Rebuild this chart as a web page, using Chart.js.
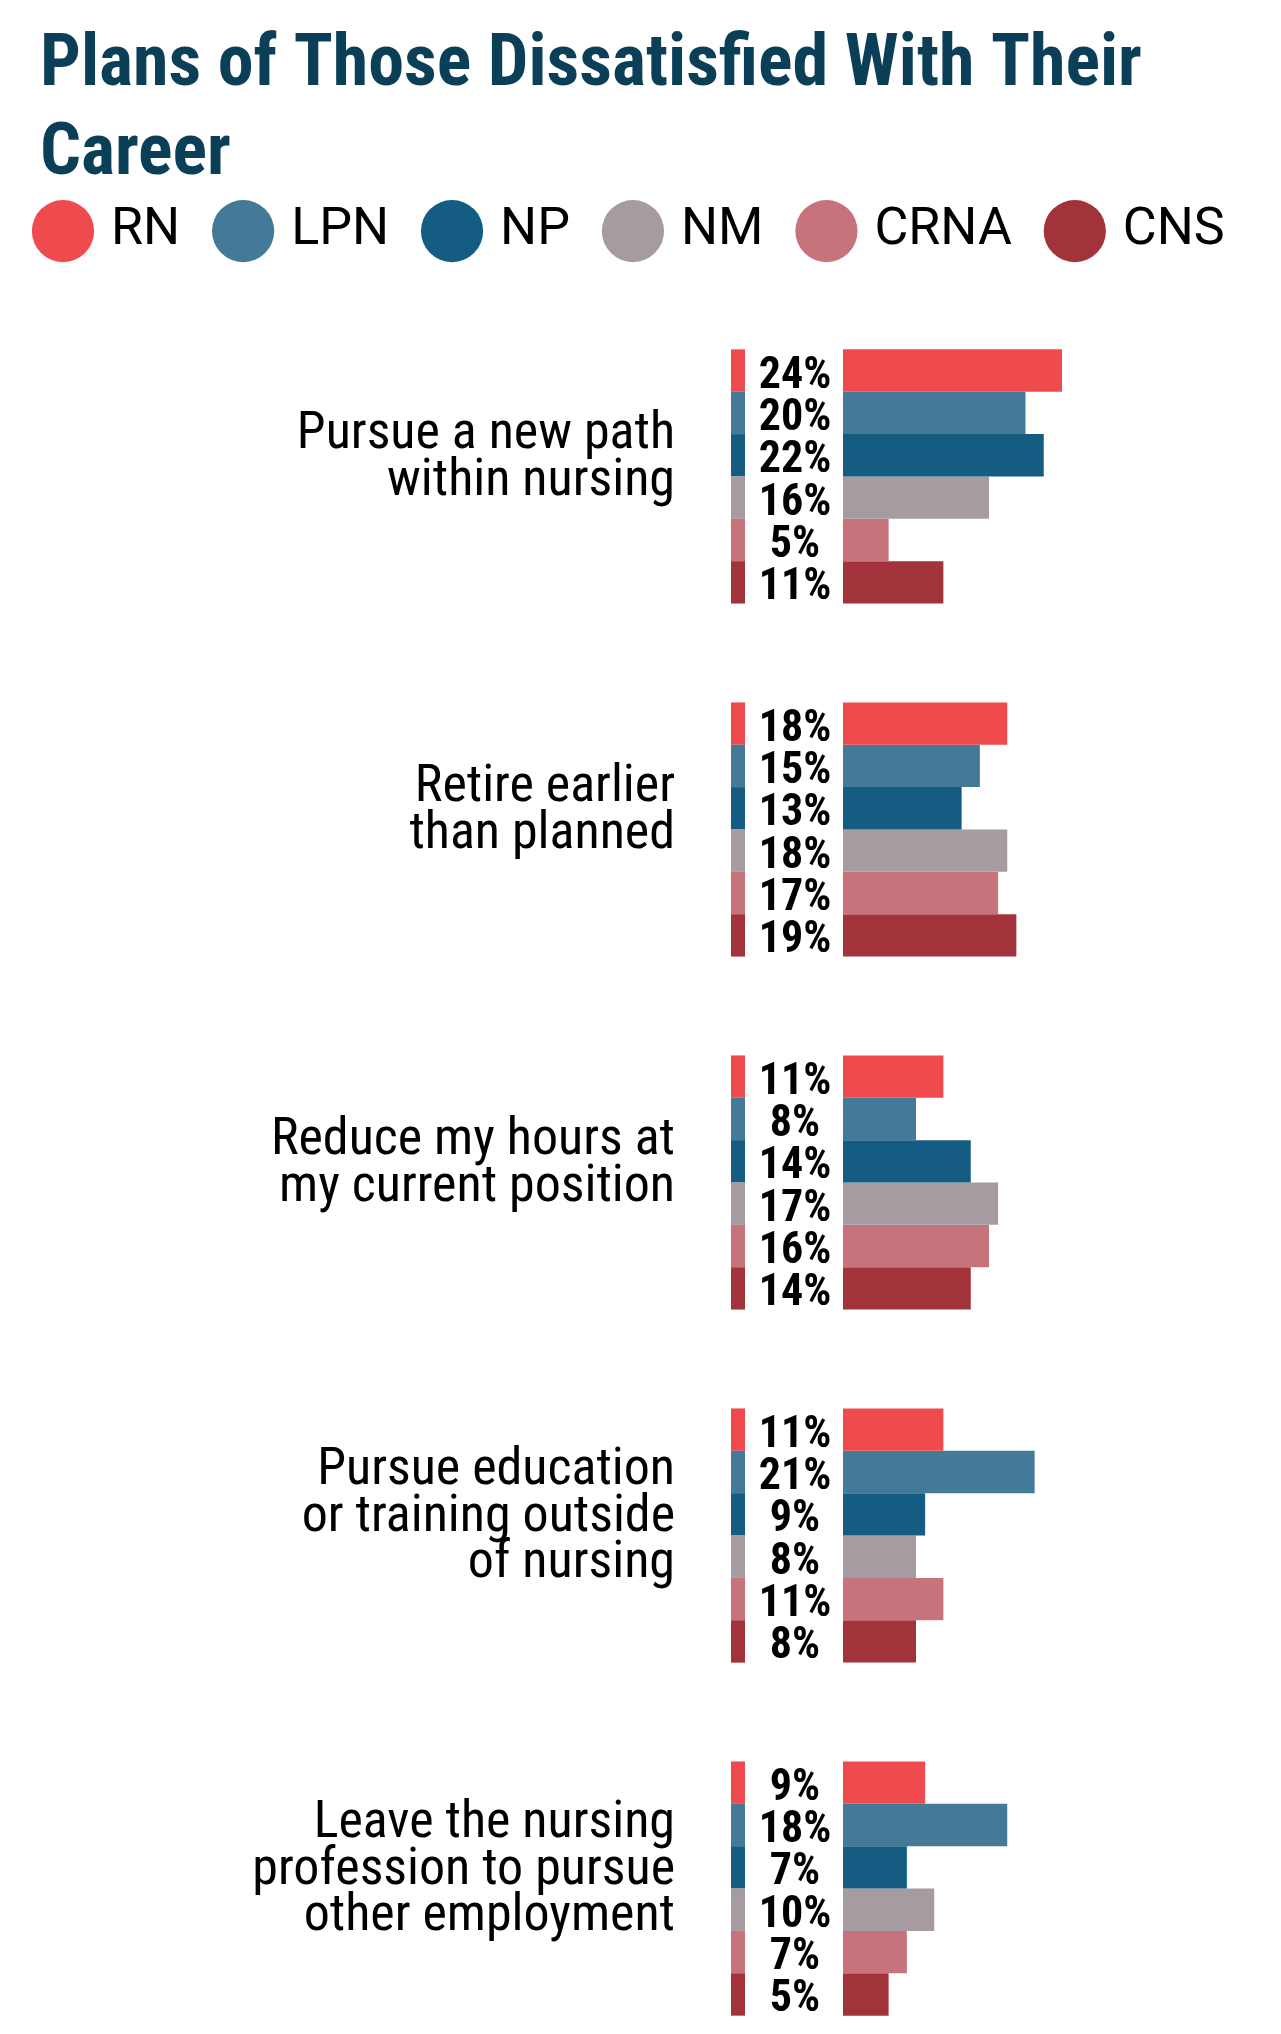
<!DOCTYPE html>
<html>
<head>
<meta charset="utf-8">
<title>Plans of Those Dissatisfied With Their Career</title>
<script src="https://cdn.jsdelivr.net/npm/chart.js@4.4.1/dist/chart.umd.min.js"></script>
<style>
  html, body { margin: 0; padding: 0; background: #fff; }
  #wrap { width: 1281px; height: 2034px; position: relative; }
</style>
</head>
<body>
<div id="wrap"><canvas id="plansChart"></canvas></div>
<script>
// Chart data
const categories = [
    ['Pursue a new path', 'within nursing'],
    ['Retire earlier', 'than planned'],
    ['Reduce my hours at', 'my current position'],
    ['Pursue education', 'or training outside', 'of nursing'],
    ['Leave the nursing', 'profession to pursue', 'other employment']
];
const roles = ['RN', 'LPN', 'NP', 'NM', 'CRNA', 'CNS'];
const rnValues = [24, 18, 11, 11, 9];
const lpnValues = [20, 15, 8, 21, 18];
const npValues = [22, 13, 14, 9, 7];
const nmValues = [16, 18, 17, 8, 10];
const crnaValues = [5, 17, 16, 11, 7];
const cnsValues = [11, 19, 14, 8, 5];

const roleColors = ['#ef4a4d', '#427a97', '#145c82', '#a69ba1', '#c7737b', '#a3333b'];
const seriesValues = [rnValues, lpnValues, npValues, nmValues, crnaValues, cnsValues];

const condensed = "'Roboto Condensed', 'Liberation Sans Narrow', 'DejaVu Sans Condensed', sans-serif";

// colour key strip + percent label to the left of each bar
const valueLabels = {
    id: 'valueLabels',
    afterLayout(chart) {
        // title is indented, the legend row is not
        chart.titleBlock.left = 40;
    },
    afterDatasetsDraw(chart) {
        const ctx = chart.ctx;
        const left = chart.chartArea.left;
        ctx.save();
        ctx.font = 'bold 44px ' + condensed;
        ctx.textAlign = 'center';
        ctx.textBaseline = 'middle';
        chart.data.datasets.forEach((ds, i) => {
            const meta = chart.getDatasetMeta(i);
            meta.data.forEach((bar, j) => {
                const p = bar.getProps(['y', 'height'], true);
                ctx.fillStyle = ds.backgroundColor;
                ctx.fillRect(left - 112, p.y - p.height / 2, 14, p.height);
                ctx.fillStyle = '#000';
                ctx.fillText(ds.data[j].x + '%', left - 48, p.y + 6);
            });
        });
        ctx.restore();
    }
};

const ctx = document.getElementById('plansChart').getContext('2d');

new Chart(ctx, {
    type: 'bar',
    data: {
        datasets: roles.map((role, i) => ({
            label: role,
            data: seriesValues[i].map((v, j) => ({ x: v, y: j })),
            backgroundColor: roleColors[i],
            borderWidth: 0,
            categoryPercentage: 0.72,
            barPercentage: 1
        }))
    },
    options: {
        indexAxis: 'y',
        responsive: true,
        maintainAspectRatio: false,
        animation: false,
        layout: {
            padding: 0
        },
        plugins: {
            title: {
                display: true,
                align: 'start',
                text: ['Plans of Those Dissatisfied With Their', 'Career'],
                color: '#0b3f58',
                font: { family: condensed, size: 72, weight: 'bold', lineHeight: 1.23 },
                padding: { top: 23, bottom: -36 }
            },
            legend: {
                display: true,
                align: 'start',
                labels: {
                    usePointStyle: true,
                    pointStyle: 'circle',
                    boxWidth: 44,
                    boxHeight: 44,
                    padding: 41,
                    color: '#000',
                    font: { family: 'Roboto', size: 52 }
                }
            },
            tooltip: { enabled: false }
        },
        scales: {
            x: {
                type: 'linear',
                display: false,
                min: 0,
                max: 48
            },
            y: {
                type: 'linear',
                reverse: true,
                offset: false,
                min: -0.593,
                max: 4.412,
                afterBuildTicks(scale) {
                    scale.ticks = categories.map((c, i) => ({ value: i }));
                },
                afterFit(scale) {
                    scale.width = 843;
                    // labels sit beside the bars, no extra room needed above/below
                    scale.paddingTop = 0;
                    scale.paddingBottom = 0;
                },
                grid: { display: false, drawTicks: false },
                border: { display: false },
                ticks: {
                    padding: 168,
                    labelOffset: -18,
                    color: '#000',
                    font: { family: condensed, size: 52, lineHeight: 0.9 },
                    callback: (value) => categories[value]
                }
            }
        }
    },
    plugins: [valueLabels]
});
</script>
</body>
</html>
